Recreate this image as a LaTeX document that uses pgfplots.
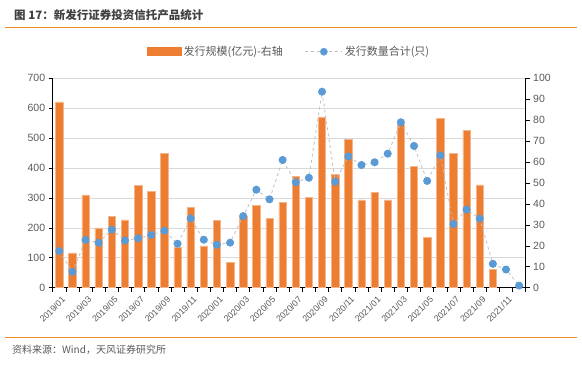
\documentclass[border=0pt]{standalone}
\usepackage{fontspec}
\setmainfont{Liberation Sans}
\newfontfamily\cjk{Noto Sans CJK SC}
\usepackage{pgfplots}
\usepackage{pgfplotstable}
\pgfplotsset{compat=1.18}
\definecolor{barorange}{HTML}{ED7D31}
\definecolor{baredge}{HTML}{F6B48A}
\definecolor{dotblue}{HTML}{5B9BD5}
\definecolor{linegray}{HTML}{BFBFBF}
\definecolor{txtgray}{HTML}{595959}
\definecolor{titlegray}{HTML}{404040}
\definecolor{rulecol}{HTML}{F08A24}
\definecolor{gridgray}{HTML}{D9D9D9}

\pgfplotstableread{
x bar
0 621
1 116
2 310
3 200
4 239
5 227
6 341
7 322
8 450
9 135
10 268
11 140
12 226
13 84
14 240
15 276
16 231
17 285
18 372
19 303
20 571
21 379
22 497
23 294
24 319
25 294
26 546
27 406
28 167
29 567
30 448
31 526
32 344
33 61
}\bardata

\pgfplotstableread{
x cnt
0 17.5
1 7.6
2 22.8
3 21.5
4 27.7
5 22.5
6 23.6
7 25.2
8 27.2
9 21.0
10 33.1
11 22.9
12 20.5
13 21.5
14 34.2
15 46.8
16 42.2
17 61.0
18 50.3
19 52.5
20 93.6
21 50.6
22 62.7
23 58.6
24 59.9
25 64.0
26 79.0
27 67.7
28 51.0
29 63.2
30 30.4
31 37.3
32 33.0
33 11.4
34 8.7
35 1.0
}\cntdata

\begin{document}
\begin{tikzpicture}[x=1pt,y=1pt]
\useasboundingbox (0,0) rectangle (582,367);
\node[anchor=west, text=titlegray, inner sep=0pt] at (14,352) {\cjk\bfseries\fontsize{11.5}{13}\selectfont 图 17：新发行证券投资信托产品统计};
\draw[rulecol, line width=1.5pt] (5,339.5) -- (577,339.5);
\draw[rulecol, line width=1pt] (5,29) -- (577,29);
\node[anchor=west, text=txtgray, inner sep=0pt] at (12,17) {\cjk\fontsize{10}{12}\selectfont 资料来源：Wind，天风证券研究所};

\begin{axis}[
  at={(52.7pt,79.3pt)}, anchor=south west,
  scale only axis, width=473pt, height=209.4pt,
  xmin=-0.5, xmax=35.5, ymin=0, ymax=700,
  axis x line*=bottom, axis y line*=left,
  axis line style={black, line width=0.6pt},
  ytick={0,100,...,700},
  ymajorgrids, grid style={gridgray, line width=0.6pt},
  tick align=outside,
  major tick length=4pt, minor tick length=4pt,
  tick style={black, line width=0.6pt},
  xtick={0,2,...,34},
  xticklabels={2019/01,2019/03,2019/05,2019/07,2019/09,2019/11,2020/01,2020/03,2020/05,2020/07,2020/09,2020/11,2021/01,2021/03,2021/05,2021/07,2021/09,2021/11},
  minor xtick={-0.5,0.5,...,35.5},
  x tick style={draw=none},
  minor x tick style={draw=black, line width=0.6pt},
  xticklabel style={rotate=45, anchor=north east, font=\fontsize{8.8}{10}\selectfont, text=txtgray, xshift=2pt, yshift=-1pt},
  yticklabel style={font=\fontsize{10.5}{12}\selectfont, text=txtgray},
  /pgf/number format/assume math mode=true,
  legend columns=2,
  legend style={at={(0.5,1)}, anchor=south, yshift=17pt, draw=none, fill=none,
    font=\cjk\fontsize{11}{13}\selectfont, text=txtgray,
    /tikz/every even column/.append style={column sep=20pt}},
  legend cell align=left,
]
\addplot[ybar, bar width=7.4pt, fill=barorange, draw=baredge, line width=0.5pt,
  legend image code/.code={\fill[barorange] (0pt,-3.5pt) rectangle (34pt,4pt);}]
  table[x=x, y=bar] {\bardata};
\addlegendentry{发行规模(亿元)-右轴}
\addlegendimage{legend image code/.code={\draw[linegray, dashed, line width=0.8pt] (0pt,0pt) -- (37pt,0pt); \fill[dotblue] (18.5pt,0pt) circle (3.6pt);}}
\addlegendentry{发行数量合计(只)}
\end{axis}

\begin{axis}[
  at={(52.7pt,79.3pt)}, anchor=south west,
  scale only axis, width=473pt, height=209.4pt,
  xmin=-0.5, xmax=35.5, ymin=0, ymax=100,
  axis x line=none, axis y line*=right,
  axis line style={black, line width=0.6pt},
  ytick={0,10,...,100},
  tick align=outside, major tick length=4pt,
  tick style={black, line width=0.6pt},
  yticklabel style={font=\fontsize{10.5}{12}\selectfont, text=txtgray},
  /pgf/number format/assume math mode=true,
]
\addplot[linegray, dashed, line width=0.8pt, mark=*, mark size=3.6pt,
  mark options={solid, fill=dotblue, draw=dotblue}]
  table[x=x, y=cnt] {\cntdata};
\end{axis}
\end{tikzpicture}
\end{document}
